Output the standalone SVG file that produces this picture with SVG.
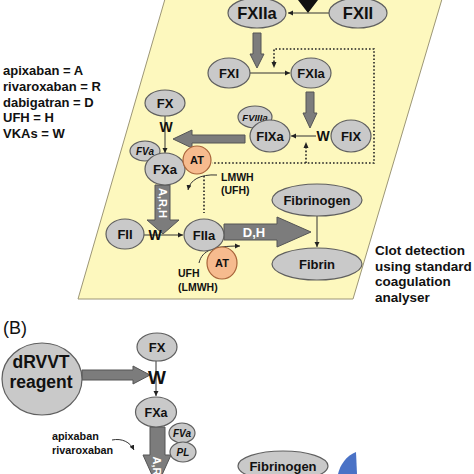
<svg xmlns="http://www.w3.org/2000/svg" width="474" height="474" viewBox="0 0 474 474">
<defs>
<marker id="ah" markerWidth="6" markerHeight="6" refX="5" refY="3" orient="auto" markerUnits="userSpaceOnUse">
<path d="M0,0.5 L5,3 L0,5.5 Z" fill="#222"/>
</marker>
<style>
.n{fill:#c9c9c9;stroke:#5f5f5f;stroke-width:1.2}
.at{fill:#f6bb8e;stroke:#a8643a;stroke-width:1.2}
.t{font-family:"Liberation Sans",Arial,sans-serif;font-weight:bold;fill:#111;text-anchor:middle}
.ti{font-family:"Liberation Sans",Arial,sans-serif;font-weight:bold;font-style:italic;fill:#111;text-anchor:middle}
.l{font-family:"Liberation Sans",Arial,sans-serif;font-weight:bold;fill:#111}
.wt{font-family:"Liberation Sans",Arial,sans-serif;font-weight:bold;fill:#fff;text-anchor:middle}
.big{fill:#7c7c7c;stroke:#555;stroke-width:1}
.thin{stroke:#333;stroke-width:1;fill:none;marker-end:url(#ah)}
.dot{stroke:#222;stroke-width:1.6;fill:none;stroke-dasharray:1.6 2}
</style>
</defs>
<rect width="474" height="474" fill="#fff"/>
<polygon points="165,-1 442,-1 353,299 78,299" fill="#fdf8be" stroke="#9c9676" stroke-width="1"/>

<g id="legend">
<text class="l" x="3" y="75" font-size="13">apixaban = A</text>
<text class="l" x="3" y="91" font-size="13">rivaroxaban = R</text>
<text class="l" x="3" y="107" font-size="13">dabigatran = D</text>
<text class="l" x="3" y="122" font-size="13">UFH = H</text>
<text class="l" x="3" y="138" font-size="13">VKAs = W</text>
</g>
<g id="clot-label">
<text class="l" x="375" y="255" font-size="13.5">Clot detection</text>
<text class="l" x="375" y="270.5" font-size="13.5">using standard</text>
<text class="l" x="375" y="286" font-size="13.5">coagulation</text>
<text class="l" x="375" y="301.5" font-size="13.5">analyser</text>
</g>

<g id="connectors">
<polygon points="303,-6 313,-6 313,0 318,0 308,13 298,0 303,0" fill="#111"/>
<line class="thin" x1="329" y1="13" x2="288" y2="13"/>
<polygon class="big" points="253,33 261,33 261,54 264,54 257,68 250,54 253,54"/>
<line class="thin" x1="250" y1="73" x2="290" y2="73"/>
<polygon class="big" points="306,92 314,92 314,113 317,113 310,128 303,113 306,113"/>
<line class="thin" x1="316" y1="136" x2="291" y2="136"/>
<polygon class="big" points="245,135 245,143 192,143 192,148 173,139 192,130 192,135"/>
<line class="thin" x1="165" y1="115" x2="165" y2="153"/>
<polygon class="big" points="155,185 170,185 170,220 179,220 163,234 147,220 155,220"/>
<line class="thin" x1="144" y1="235" x2="183" y2="235"/>
<polygon class="big" points="224,224 277,224 277,217 311,232 277,247 277,240 224,240"/>
<line class="thin" x1="317" y1="216" x2="317" y2="247"/>
<path class="dot" d="M274,62 L274,49 L374,49 L374,163 L212,163"/>
<path d="M271.5,62 L276.5,62 L274,68 Z" fill="#222"/>
<path class="dot" d="M306,163 L306,148"/>
<path d="M303.5,148 L308.5,148 L306,142 Z" fill="#222"/>
<path class="dot" d="M204,176 L204,213"/>
<path class="thin" d="M217,175 C200,174 190,180 188,190"/>
<path class="thin" d="M199,263 C202,250 214,246 240,246"/>
<polygon class="big" points="82,370 133,370 133,366 150,375 133,384 133,380 82,380"/>
<line class="thin" x1="156" y1="361" x2="156" y2="396"/>
<polygon class="big" points="150,427 165,427 165,455 171,455 157,486 143,455 150,455"/>
<path class="thin" d="M112,440 C122,438 130,442 134,450"/>
</g>

<g id="arrow-labels">
<text class="wt" font-size="11" transform="translate(159,203) rotate(90)">A,R,H</text>
<text class="wt" x="254" y="237" font-size="13">D,H</text>
<text class="wt" font-size="11" transform="translate(153,466) rotate(90)">A,R</text>
<text class="t" x="166" y="132" font-size="14">W</text>
<text class="t" x="323" y="141" font-size="14">W</text>
<text class="t" x="155" y="240" font-size="14">W</text>
<text class="t" x="157" y="384" font-size="19">W</text>
</g>

<g id="FXIIa"><ellipse class="n" cx="257" cy="13" rx="29" ry="15"/><text class="t" x="257" y="19" font-size="16.5">FXIIa</text></g>
<g id="FXII"><ellipse class="n" cx="358" cy="13" rx="29" ry="15"/><text class="t" x="358" y="19" font-size="16.5">FXII</text></g>
<g id="FXI"><ellipse class="n" cx="229" cy="73" rx="21" ry="15"/><text class="t" x="229" y="78" font-size="13">FXI</text></g>
<g id="FXIa"><ellipse class="n" cx="311" cy="73" rx="20" ry="15"/><text class="t" x="311" y="78" font-size="13">FXIa</text></g>
<g id="FVIIIa"><ellipse class="n" cx="255" cy="117" rx="17" ry="11"/><text class="ti" x="255" y="121" font-size="9.5">FVIIIa</text></g>
<g id="FIXa"><ellipse class="n" cx="270" cy="136" rx="20" ry="16"/><text class="t" x="270" y="141" font-size="13">FIXa</text></g>
<g id="FIX"><ellipse class="n" cx="351" cy="136" rx="20" ry="16"/><text class="t" x="351" y="141" font-size="13">FIX</text></g>
<g id="FX"><ellipse class="n" cx="165" cy="103" rx="20" ry="13"/><text class="t" x="165" y="108" font-size="13">FX</text></g>
<g id="FVa"><ellipse class="n" cx="145" cy="151" rx="15" ry="10"/><text class="ti" x="145" y="155" font-size="10">FVa</text></g>
<g id="FXa"><ellipse class="n" cx="165" cy="169" rx="20" ry="16"/><text class="t" x="165" y="174" font-size="13">FXa</text></g>
<g id="AT1"><ellipse class="at" cx="197" cy="160" rx="14" ry="14"/><text class="t" x="197" y="164" font-size="11">AT</text></g>
<g id="LMWH-label"><text class="l" x="221" y="181" font-size="10.5">LMWH</text><text class="l" x="221" y="194" font-size="10.5">(UFH)</text></g>
<g id="FII"><ellipse class="n" cx="125" cy="234" rx="19" ry="15"/><text class="t" x="125" y="239" font-size="13">FII</text></g>
<g id="FIIa"><ellipse class="n" cx="204" cy="235" rx="20" ry="16"/><text class="t" x="204" y="240" font-size="13">FIIa</text></g>
<g id="AT2"><ellipse class="at" cx="222" cy="263" rx="15" ry="16"/><text class="t" x="222" y="267" font-size="11">AT</text></g>
<g id="UFH-label"><text class="l" x="178" y="277" font-size="10.5">UFH</text><text class="l" x="178" y="291" font-size="10.5">(LMWH)</text></g>
<g id="Fibrinogen"><ellipse class="n" cx="317" cy="200" rx="45" ry="16"/><text class="t" x="317" y="205" font-size="13">Fibrinogen</text></g>
<g id="Fibrin"><ellipse class="n" cx="317" cy="264" rx="45" ry="16"/><text class="t" x="317" y="269" font-size="13">Fibrin</text></g>

<text x="3" y="334" font-family="Liberation Sans,Arial,sans-serif" font-size="18" fill="#111">(B)</text>
<g id="dRVVT"><ellipse class="n" cx="42" cy="379" rx="40" ry="36"/><text class="t" x="41" y="368" font-size="17.5">dRVVT</text><text class="t" x="41" y="388" font-size="17.5">reagent</text></g>
<g id="B-FX"><ellipse class="n" cx="157" cy="347" rx="20" ry="14"/><text class="t" x="157" y="352" font-size="13">FX</text></g>
<g id="B-FXa"><ellipse class="n" cx="156" cy="412" rx="20.5" ry="15"/><text class="t" x="156" y="417" font-size="12.5">FXa</text></g>
<g id="B-FVa"><ellipse class="n" cx="182" cy="433" rx="13" ry="10"/><text class="ti" x="182" y="437" font-size="10">FVa</text></g>
<g id="B-PL"><ellipse class="n" cx="183" cy="452" rx="13" ry="10"/><text class="ti" x="183" y="456" font-size="10">PL</text></g>
<g id="B-drugs"><text class="l" x="52" y="440" font-size="10.8">apixaban</text><text class="l" x="52" y="454" font-size="10.8">rivaroxaban</text></g>
<g id="B-Fibrinogen"><ellipse class="n" cx="283" cy="466" rx="45" ry="15"/><text class="t" x="283" y="471" font-size="13">Fibrinogen</text></g>
<path d="M356,452 L357,474 L338,474 C340,465 346,456 356,452 Z" fill="#4a72c6"/>
</svg>
